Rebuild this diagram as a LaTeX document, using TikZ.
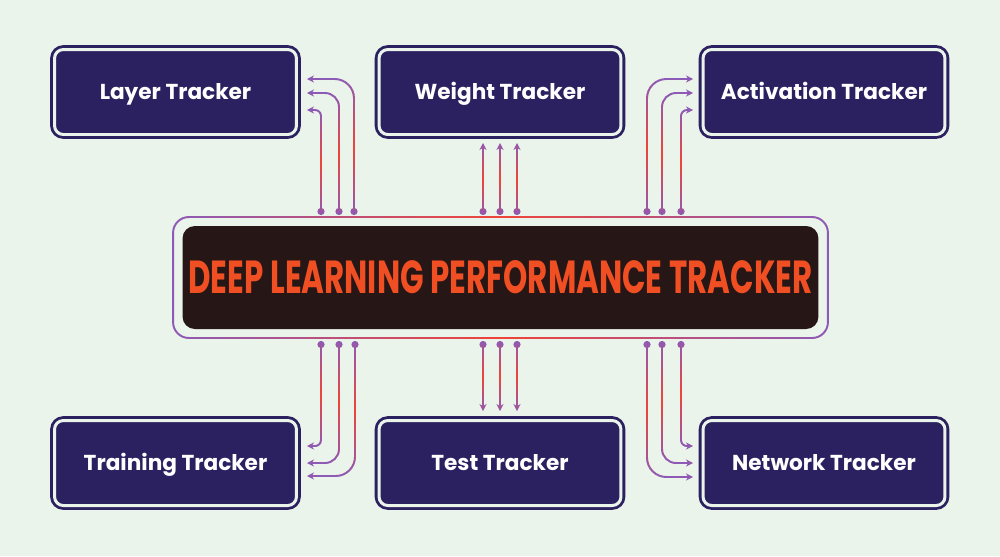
\documentclass[tikz,border=0pt]{standalone}
\usepackage{fontspec}
\setmainfont{Poppins}
\usepackage{graphicx}
\usetikzlibrary{positioning,calc,arrows.meta,fadings}

\definecolor{bgcol}{HTML}{EBF4EA}
\definecolor{navy}{HTML}{2B2160}
\definecolor{darkbrown}{HTML}{261615}
\definecolor{linkpurple}{HTML}{8C5BB8}
\definecolor{linkred}{HTML}{F0453A}
\definecolor{titleorange}{HTML}{F04E23}

\tikzfading[name=midvert,top color=transparent!100,bottom color=transparent!100,middle color=transparent!0]
\tikzfading[name=midhorz,left color=transparent!100,right color=transparent!100,middle color=transparent!0]

\tikzset{
  trackbox/.style={rectangle,rounded corners=5pt,fill=navy,draw=navy,line width=1.6pt,
    double=bgcol,double distance=1.7pt,minimum width=4.84cm,minimum height=1.70cm,
    outer sep=0pt,inner sep=0pt,text=white,text height=0.8em,text depth=0pt,
    font=\bfseries\fontsize{12.3}{14}\selectfont},
  titlebox/.style={rectangle,rounded corners=7pt,fill=darkbrown,minimum width=12.72cm,
    minimum height=2.06cm,inner sep=0pt,text=titleorange},
  titleframe/.style={rectangle,rounded corners=9pt,draw=linkpurple,line width=1.1pt,
    minimum width=13.1cm,minimum height=2.42cm,outer sep=0pt,
    postaction={draw=linkred,path fading=midhorz}},
  link/.style={draw=linkpurple,line width=1.1pt,
    {Circle[length=4pt]}-{Stealth[length=4pt,width=4pt]},
    postaction={draw=linkred,path fading=midvert}},
}

\begin{document}
\begin{tikzpicture}[x=0.02cm,y=-0.02cm]
\fill[bgcol] (0,0) rectangle (1000,556);
\useasboundingbox (0,0) rectangle (1000,556);

% tracker boxes
\node[trackbox] (layer) at (175.5,92) {Layer Tracker};
\node[trackbox] (weight) at (500,92) {Weight Tracker};
\node[trackbox] (activation) at (824,92) {Activation Tracker};
\node[trackbox] (training) at (175.5,463) {Training Tracker};
\node[trackbox] (test) at (500,463) {Test Tracker};
\node[trackbox] (network) at (824,463) {Network Tracker};

% main box
\node[titleframe] (frame) at (500.5,277.5) {};
\node[titlebox] (title) at (500.5,277.5)
  {\resizebox{12.48cm}{0.66cm}{\bfseries DEEP LEARNING PERFORMANCE TRACKER}};

% dot ends on the main frame
\coordinate (tl1) at (354,215);
\coordinate (tl2) at (339,215);
\coordinate (tl3) at (321,215);
\coordinate (tm1) at (483,215);
\coordinate (tm2) at (500,215);
\coordinate (tm3) at (517,215);
\coordinate (tr1) at (647,215);
\coordinate (tr2) at (662,215);
\coordinate (tr3) at (681,215);
\coordinate (bl1) at (321,341);
\coordinate (bl2) at (339,341);
\coordinate (bl3) at (355,341);
\coordinate (bm1) at (483,341);
\coordinate (bm2) at (500,341);
\coordinate (bm3) at (517,341);
\coordinate (br1) at (681,341);
\coordinate (br2) at (662,341);
\coordinate (br3) at (647,341);

% upper links
\draw[link,rounded corners=11pt] (tl1) |- ($(layer.east)+(10.5,-13)$);
\draw[link,rounded corners=8pt] (tl2) |- ($(layer.east)+(10.5,1)$);
\draw[link,rounded corners=3.4pt] (tl3) |- ($(layer.east)+(10.5,18)$);

\draw[link] (tm1) -- ($(weight.south)+(-17,8.5)$);
\draw[link] (tm2) -- ($(weight.south)+(0,8.5)$);
\draw[link] (tm3) -- ($(weight.south)+(17,8.5)$);

\draw[link,rounded corners=11pt] (tr1) |- ($(activation.west)+(-10,-13)$);
\draw[link,rounded corners=8pt] (tr2) |- ($(activation.west)+(-10,1)$);
\draw[link,rounded corners=3.4pt] (tr3) |- ($(activation.west)+(-10,18)$);

% lower links
\draw[link,rounded corners=3.4pt] (bl1) |- ($(training.east)+(10.5,-17)$);
\draw[link,rounded corners=8pt] (bl2) |- ($(training.east)+(10.5,0)$);
\draw[link,rounded corners=11pt] (bl3) |- ($(training.east)+(10.5,13)$);

\draw[link] (bm1) -- ($(test.north)+(-17,-9.5)$);
\draw[link] (bm2) -- ($(test.north)+(0,-9.5)$);
\draw[link] (bm3) -- ($(test.north)+(17,-9.5)$);

\draw[link,rounded corners=3.4pt] (br1) |- ($(network.west)+(-10,-17)$);
\draw[link,rounded corners=8pt] (br2) |- ($(network.west)+(-10,0)$);
\draw[link,rounded corners=11pt] (br3) |- ($(network.west)+(-10,14)$);

\end{tikzpicture}
\end{document}
